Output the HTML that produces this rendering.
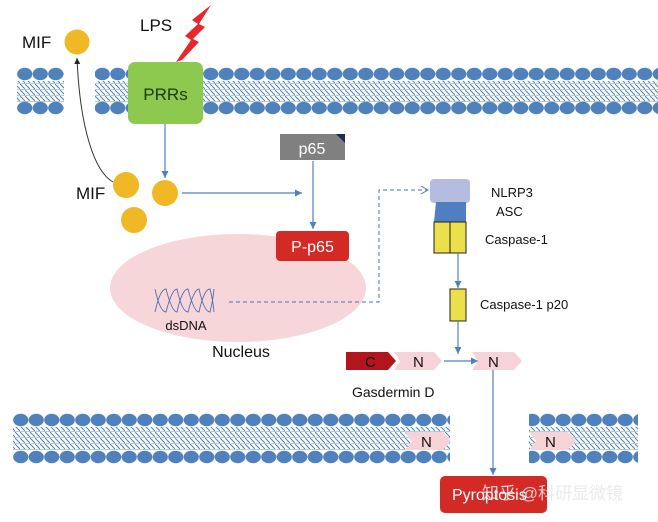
<!DOCTYPE html>
<html><head><meta charset="utf-8"><style>
html,body{margin:0;padding:0;background:#fff;}
svg{display:block;font-family:"Liberation Sans","Noto Sans CJK SC",sans-serif;}
</style></head><body>
<svg width="658" height="522" viewBox="0 0 658 522" xmlns="http://www.w3.org/2000/svg">
<defs>
<pattern id="h1" patternUnits="userSpaceOnUse" x="17" y="67" width="15.5" height="14"><ellipse cx="7.75" cy="7" rx="7.6" ry="6.2" fill="#4f81bd"/></pattern>
<pattern id="h2" patternUnits="userSpaceOnUse" x="17" y="101" width="15.5" height="14"><ellipse cx="7.75" cy="7" rx="7.6" ry="6.2" fill="#4f81bd"/></pattern>
<pattern id="h3" patternUnits="userSpaceOnUse" x="13" y="413" width="15.5" height="14"><ellipse cx="7.75" cy="7" rx="7.6" ry="6.2" fill="#4f81bd"/></pattern>
<pattern id="h4" patternUnits="userSpaceOnUse" x="13" y="450" width="15.5" height="14"><ellipse cx="7.75" cy="7" rx="7.6" ry="6.2" fill="#4f81bd"/></pattern>
<pattern id="t" patternUnits="userSpaceOnUse" x="0" y="0" width="5" height="6"><line x1="0" y1="0" x2="5" y2="5" stroke="#4f81bd" stroke-width="1"/><line x1="0" y1="5.5" x2="5" y2="5.5" stroke="#8aa6d0" stroke-width="0.6"/></pattern>
<marker id="a" markerWidth="8" markerHeight="8" refX="6" refY="3" orient="auto"><path d="M0,0 L6,3 L0,6 z" fill="#4f81bd"/></marker>
<marker id="ak" markerWidth="8" markerHeight="8" refX="6" refY="3" orient="auto"><path d="M0,0 L6,3 L0,6 z" fill="#222"/></marker>
<marker id="ao" markerWidth="10" markerHeight="10" refX="7" refY="4" orient="auto"><path d="M0,0 L7,4 L0,8" fill="none" stroke="#4f81bd"/></marker>
</defs>

<g>
<rect x="17" y="67" width="47" height="14" fill="url(#h1)"/><rect x="17" y="81" width="47" height="21" fill="url(#t)"/><rect x="17" y="101" width="47" height="14" fill="url(#h2)"/>
<rect x="95" y="67" width="36" height="14" fill="url(#h1)"/><rect x="95" y="81" width="36" height="21" fill="url(#t)"/><rect x="95" y="101" width="36" height="14" fill="url(#h2)"/>
<rect x="203" y="67" width="455" height="14" fill="url(#h1)"/><rect x="203" y="81" width="455" height="21" fill="url(#t)"/><rect x="203" y="101" width="455" height="14" fill="url(#h2)"/>
</g>
<g>
<rect x="13" y="413" width="437" height="14" fill="url(#h3)"/><rect x="13" y="427" width="437" height="23" fill="url(#t)"/><rect x="13" y="450" width="437" height="14" fill="url(#h4)"/>
<rect x="529" y="413" width="109" height="14" fill="url(#h3)"/><rect x="529" y="427" width="109" height="23" fill="url(#t)"/><rect x="529" y="450" width="109" height="14" fill="url(#h4)"/>
<path d="M405,432 L443,432 L451,441 L443,450 L405,450 L412,441 z" fill="#f6d3d6"/>
<text x="421" y="447" font-size="15" fill="#111">N</text>
<path d="M529,432 L568,432 L576,441 L568,450 L529,450 L536,441 z" fill="#f6d3d6"/>
<text x="545" y="447" font-size="15" fill="#111">N</text>
</g>

<path d="M211,5 L192,20 L198,24 L185,36 L191,40 L176,62 L182,60 L199,42 L193,39 L205,27 L199,24 z" fill="#e8262b"/>
<text x="140" y="31" font-size="17" fill="#111">LPS</text>
<text x="22" y="48" font-size="17" fill="#111">MIF</text>
<circle cx="77" cy="42" r="12.5" fill="#f1b825"/>

<rect x="128" y="62" width="75" height="62" rx="7" fill="#8dc84f"/>
<text x="165.5" y="100" font-size="17" text-anchor="middle" fill="#1b3a10">PRRs</text>

<path d="M113,182 C95,172 80,130 77,58" fill="none" stroke="#333" stroke-width="1" marker-end="url(#ak)"/>
<line x1="165" y1="124" x2="165" y2="178" stroke="#4f81bd" stroke-width="1.2" marker-end="url(#a)"/>
<text x="76" y="199" font-size="17" fill="#111">MIF</text>
<circle cx="126" cy="185" r="13" fill="#f1b825"/>
<circle cx="165" cy="193" r="13" fill="#f1b825"/>
<circle cx="134" cy="220" r="13" fill="#f1b825"/>
<line x1="182" y1="193" x2="302" y2="193" stroke="#4f81bd" stroke-width="1.2" marker-end="url(#a)"/>

<rect x="280" y="134" width="65" height="26" fill="#808080"/>
<path d="M336,134 L345,134 L345,143 z" fill="#1f2f4f"/>
<text x="312" y="154" font-size="16" text-anchor="middle" fill="#fff">p65</text>
<line x1="313" y1="161" x2="313" y2="229" stroke="#4f81bd" stroke-width="1.2" marker-end="url(#a)"/>

<ellipse cx="238" cy="288" rx="128" ry="54" fill="#f7d6da"/>
<rect x="276" y="231" width="73" height="30" rx="4" fill="#d42a26"/>
<text x="312.5" y="252" font-size="16" text-anchor="middle" fill="#fff">P-p65</text>
<g stroke="#4f6fb0" stroke-width="0.9" fill="none">
<path d="M155,289 Q160,312 166,312 Q172,289 177,289 Q182,312 188,312 Q194,289 199,289 Q204,312 210,312 Q213,300 214,289"/>
<path d="M155,312 Q160,289 166,289 Q172,312 177,312 Q182,289 188,289 Q194,312 199,312 Q204,289 210,289 Q213,300 214,312"/>
</g>
<text x="186" y="330" font-size="13" text-anchor="middle" fill="#111">dsDNA</text>
<text x="241" y="357" font-size="16" text-anchor="middle" fill="#111">Nucleus</text>

<path d="M229,302 L379,302 L379,190 L428,190" fill="none" stroke="#4f6fb0" stroke-width="1" stroke-dasharray="4,3" marker-end="url(#ao)"/>

<rect x="430" y="179" width="40" height="24" rx="4" fill="#b4bde0"/>
<path d="M436,202 L466,202 L466,222 L434,222 z" fill="#4f7fc1"/>
<rect x="434" y="222" width="32" height="31" fill="#ece04a" stroke="#222" stroke-width="1"/>
<line x1="450" y1="222" x2="450" y2="253" stroke="#222"/>
<text x="491" y="197" font-size="13" fill="#111">NLRP3</text>
<text x="496" y="216" font-size="13" fill="#111">ASC</text>
<text x="485" y="244" font-size="13" fill="#111">Caspase-1</text>
<line x1="458" y1="253" x2="458" y2="288" stroke="#4f81bd" stroke-width="1.2" marker-end="url(#a)"/>
<rect x="450" y="289" width="16" height="32" fill="#ece04a" stroke="#222" stroke-width="1"/>
<text x="480" y="309" font-size="13" fill="#111">Caspase-1 p20</text>
<line x1="458" y1="321" x2="458" y2="354" stroke="#4f81bd" stroke-width="1.2" marker-end="url(#a)"/>

<path d="M346,352 L388,352 L396,361 L388,370 L346,370 z" fill="#b3151d"/>
<text x="365" y="367" font-size="15" fill="#111">C</text>
<path d="M394,352 L434,352 L442,361 L434,370 L394,370 L400,361 z" fill="#f6d3d6"/>
<text x="413" y="367" font-size="15" fill="#111">N</text>
<line x1="444" y1="361" x2="478" y2="361" stroke="#4f81bd" stroke-width="1.2" marker-end="url(#a)"/>
<path d="M472,352 L514,352 L522,361 L514,370 L472,370 L478,361 z" fill="#f6d3d6"/>
<text x="488" y="367" font-size="15" fill="#111">N</text>
<text x="352" y="397" font-size="14" fill="#111">Gasdermin D</text>
<line x1="493" y1="370" x2="493" y2="475" stroke="#4f81bd" stroke-width="1.2" marker-end="url(#a)"/>

<rect x="440" y="476" width="107" height="37" rx="5" fill="#d42a26"/>
<text x="452" y="500" font-size="16" fill="#fff">Pyroptosis</text>
<text x="482" y="499" font-size="17" fill="#e8e8e8" opacity="0.85">知乎 @科研显微镜</text>
</svg>
</body></html>
